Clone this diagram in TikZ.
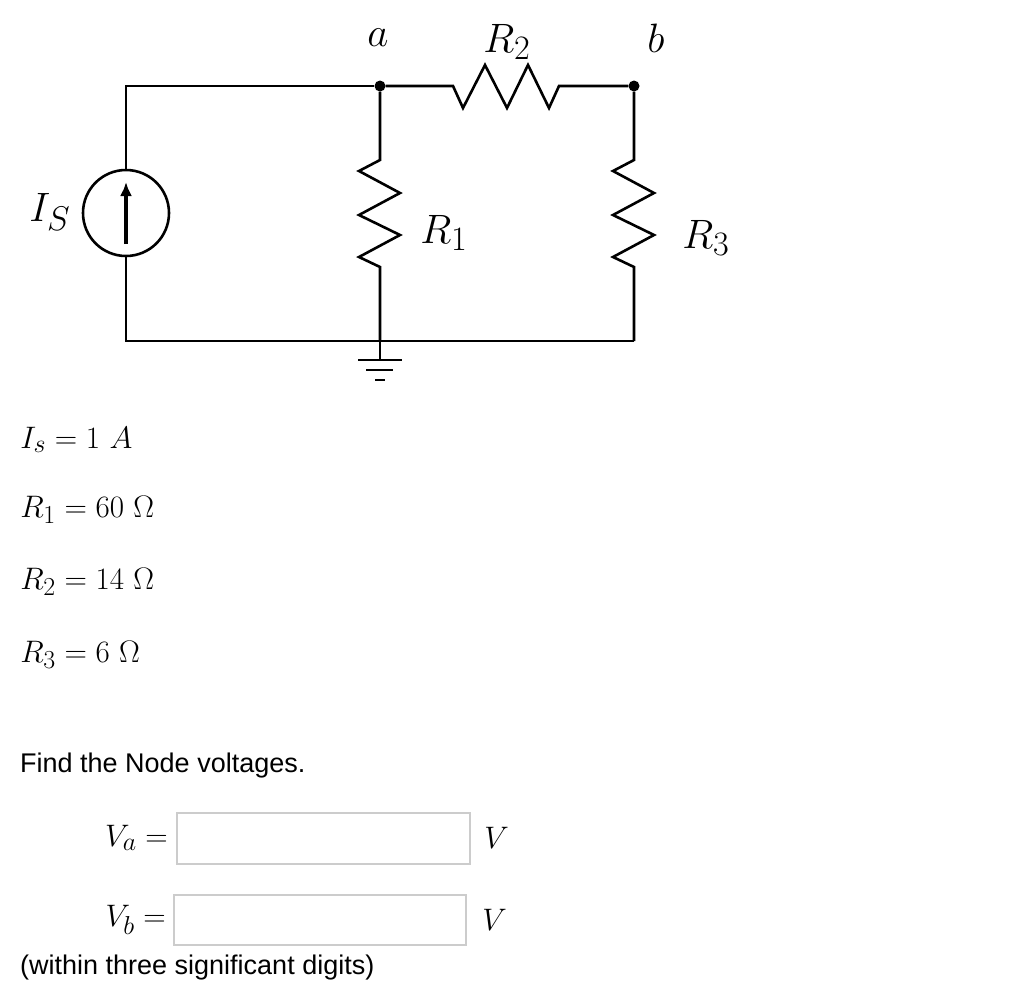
\documentclass[tikz,border=0pt]{standalone}
\usetikzlibrary{arrows.meta}
\usepackage{fontspec}
\newfontfamily\sff{Liberation Sans}
\begin{document}
\begin{tikzpicture}[x=1pt,y=-1pt,
  w/.style={line width=2.6pt,line join=miter},
  lbl/.style={inner sep=0pt,font=\Huge,scale=1.65},
  eq/.style={inner sep=0pt,anchor=west,font=\Huge,scale=1.25},
  sf/.style={inner sep=0pt,anchor=west,font=\sff\fontsize{27}{30}\selectfont},
  box/.style={draw=black!20,line width=1.2pt},
  dot/.style={circle,fill=black,inner sep=0pt,minimum size=11pt}]
\useasboundingbox (0,0) rectangle (1024,996);
% nodes
\node[dot] (a) at (380,86) {};
\node[dot] (b) at (634,86) {};
\coordinate (tl) at (126,86);
\coordinate (bl) at (126,341);
\coordinate (br) at (634,341);
\coordinate (g) at (380,341);
\node[circle,draw,line width=2.6pt,minimum size=86pt,inner sep=0pt] (is) at (126,213) {};
% wires
\draw[w] (is.north) -- (tl) -- (a);
\draw[w] (is.south) -- (bl) -- (br);
\draw[w] (a) -- (453,86) -- (463,108) -- (485,65) -- (507,108) -- (528,65) -- (549,108) -- (559,86) -- (b);
\draw[w] (a) -- (380,160) -- (359,171) -- (400,193) -- (359,215) -- (400,235) -- (359,257) -- (380,267) -- (g);
\draw[w] (b) -- (634,160) -- (613,171) -- (654,193) -- (613,215) -- (654,235) -- (613,257) -- (634,267) -- (br);
\draw[w] (g) -- (380,360);
\draw[w] (358,360) -- (402,360) (366,370) -- (393,370) (375,380) -- (385,380);
\draw[line width=3.5pt,-{Latex[length=14pt,width=12pt]}] (126,244) -- (126,182);
% labels
\node[lbl] (la) at (378,38) {$a$};
\node[lbl] (lr2) at (507,42) {$R_2$};
\node[lbl] (lb) at (656,38) {$b$};
\node[lbl] (lis) at (50,212) {$I_S$};
\node[lbl] (lr1) at (444,233) {$R_1$};
\node[lbl] (lr3) at (706,238) {$R_3$};
% equations
\node[eq] (e1) at (20,440) {$I_s = 1\ A$};
\node[eq] (e2) at (20,510) {$R_1 = 60\ \Omega$};
\node[eq] (e3) at (20,582) {$R_2 = 14\ \Omega$};
\node[eq] (e4) at (20,655) {$R_3 = 6\ \Omega$};
\node[sf] (find) at (20,766) {Find the Node voltages.};
\node[eq,anchor=east] (va) at (168,838) {$V_a =$};
\draw[box] (177,813) rectangle (470,864);
\node[eq] (vu1) at (484,838) {$V$};
\node[eq,anchor=east] (vb) at (166,920) {$V_b =$};
\draw[box] (174,895) rectangle (466,945);
\node[eq] (vu2) at (482,920) {$V$};
\node[sf] (w3) at (20,968) {(within three significant digits)};
\end{tikzpicture}
\end{document}
